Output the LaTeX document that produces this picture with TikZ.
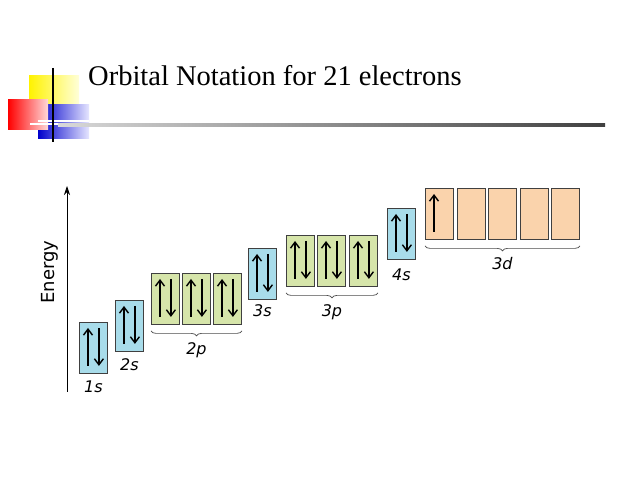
\documentclass[tikz,border=0pt]{standalone}
\usepackage{fontspec}
\setmainfont{Liberation Serif}
\setsansfont{DejaVu Sans}
\usetikzlibrary{decorations.pathreplacing,arrows.meta}
\definecolor{sbl}{HTML}{A8DCEA}
\definecolor{pgr}{HTML}{D6E5AA}
\definecolor{dor}{HTML}{FAD3AC}
\tikzset{orb/.style={draw=black!75,line width=0.9pt,minimum width=28pt,minimum height=51pt,inner sep=0pt,anchor=north west},
 spin/.style={line width=1.4pt,-{Straight Barb[length=6pt,width=9pt,line width=1.4pt]}},
 lbl/.style={font=\sffamily\itshape\fontsize{16}{16}\selectfont},
 br/.style={decorate,decoration={brace,mirror,amplitude=5pt},black!70,line width=0.7pt}}
\newcommand{\pair}[1]{\draw[spin] ([xshift=9pt,yshift=8pt]#1.south west) -- ([xshift=9pt,yshift=-6pt]#1.north west);
 \draw[spin] ([xshift=-9pt,yshift=-6pt]#1.north east) -- ([xshift=-9pt,yshift=8pt]#1.south east);}
\begin{document}
\begin{tikzpicture}[x=1pt,y=-1pt]
\useasboundingbox[fill=white] (0,0) rectangle (638,478);
% logo
\shade[left color=yellow!90!orange, right color=yellow!15] (29,76) rectangle (79,105);
\shade[left color=blue!80!black, right color=blue!10] (38,105) rectangle (89,139);
\shade[left color=red, right color=red!15] (8,100) rectangle (48,130);
\fill[white] (38,120) rectangle (89,122);
\fill[white] (30,123) rectangle (60,125);
\draw[line width=1.2pt] (53,68) -- (53,142);
\shade[left color=black!15, right color=black!75] (58,124) rectangle (605,126.5);
\node[anchor=base west,inner sep=0pt,font=\fontsize{28.5}{28.5}\selectfont] (title) at (88,86) {Orbital Notation for 21 electrons};
% axis
\coordinate (a0) at (67,392);
\coordinate (a1) at (67,186);
\draw[line width=0.8pt,-{Stealth[length=9pt,width=6pt]}] (a0) -- (a1);
\node[rotate=90,font=\sffamily\fontsize{18}{18}\selectfont] (en) at (50,272) {Energy};
% boxes
\node[orb,fill=sbl] (s1) at (79,322) {};
\node[orb,fill=sbl] (s2) at (115,300) {};
\node[orb,fill=pgr] (p2a) at (151,273) {};
\node[orb,fill=pgr] (p2b) at (182,273) {};
\node[orb,fill=pgr] (p2c) at (213,273) {};
\node[orb,fill=sbl] (s3) at (248,248) {};
\node[orb,fill=pgr] (p3a) at (286,235) {};
\node[orb,fill=pgr] (p3b) at (317,235) {};
\node[orb,fill=pgr] (p3c) at (349,235) {};
\node[orb,fill=sbl] (s4) at (387,208) {};
\node[orb,fill=dor] (d1) at (425,188) {};
\node[orb,fill=dor] (d2) at (457,188) {};
\node[orb,fill=dor] (d3) at (488,188) {};
\node[orb,fill=dor] (d4) at (520,188) {};
\node[orb,fill=dor] (d5) at (551,188) {};
\pair{s1}\pair{s2}\pair{p2a}\pair{p2b}\pair{p2c}\pair{s3}\pair{p3a}\pair{p3b}\pair{p3c}\pair{s4}
\draw[spin] ([xshift=9pt,yshift=8pt]d1.south west) -- ([xshift=9pt,yshift=-6pt]d1.north west);
% braces and labels
\draw[br] ([yshift=-6pt]p2a.south west) -- ([yshift=-6pt]p2c.south east) coordinate[midway,yshift=-8pt] (b2p);
\draw[br] ([yshift=-6pt]p3a.south west) -- ([yshift=-6pt]p3c.south east) coordinate[midway,yshift=-8pt] (b3p);
\draw[br] ([yshift=-6pt]d1.south west) -- ([yshift=-6pt]d5.south east) coordinate[midway,yshift=-8pt] (b3d);
\node[lbl,anchor=north] (l2p) at (b2p) {2p};
\node[lbl,anchor=north] (l3p) at (b3p) {3p};
\node[lbl,anchor=north] (l3d) at (b3d) {3d};
\node[lbl,anchor=north] (l1s) at ([yshift=-3pt]s1.south) {1s};
\node[lbl,anchor=north] (l2s) at ([yshift=-3pt]s2.south) {2s};
\node[lbl,anchor=north] (l3s) at ([yshift=-1pt]s3.south) {3s};
\node[lbl,anchor=north] (l4s) at ([yshift=-5pt]s4.south) {4s};
\end{tikzpicture}
\end{document}
